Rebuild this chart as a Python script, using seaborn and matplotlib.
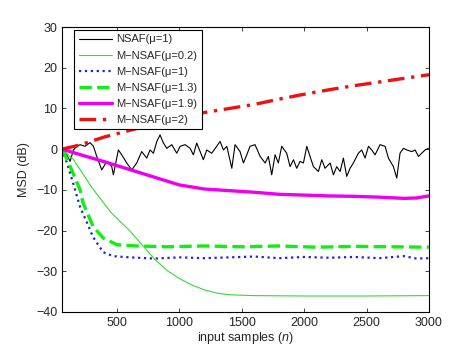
import numpy as np
import pandas as pd
import seaborn as sns
import matplotlib.pyplot as plt

# NSAF(mu=1): noisy curve
nsaf_x = [60, 71, 97, 124, 151, 178, 204, 244, 284, 311, 338, 378, 418, 458, 471, 511, 538, 578,
          618, 658, 698, 738, 765, 792, 819, 845, 872, 899, 939, 979, 1006, 1046, 1086, 1112, 1139,
          1166, 1192, 1219, 1259, 1299, 1326, 1353, 1380, 1420, 1446, 1486, 1513, 1540, 1566, 1606,
          1647, 1687, 1713, 1740, 1767, 1793, 1820, 1860, 1887, 1914, 1940, 1967, 1994, 2021, 2047,
          2074, 2114, 2141, 2167, 2208, 2234, 2261, 2288, 2314, 2341, 2368, 2394, 2434, 2461, 2488,
          2515, 2541, 2568, 2608, 2648, 2675, 2715, 2742, 2768, 2795, 2822, 2862, 2889, 2916, 2942,
          2969, 2995]
nsaf_y = [0.0, 0.0, -1.4, -3.0, -0.2, 0.7, 1.1, 0.7, 1.6, 0.7, -1.8, -5.1, -3.0, -4.3, -6.3, -0.2,
          -1.4, -3.4, -5.1, -3.4, -0.6, -2.2, -0.2, -1.0, 1.9, 3.5, 1.5, 0.2, 1.1, -1.0, 0.7, 1.1,
          0.2, -1.4, 1.5, -0.6, -2.6, -0.2, -1.0, 0.7, 1.9, -0.2, 0.7, -4.7, 1.1, -0.6, -3.4, -1.4,
          0.7, 1.1, -1.8, -3.4, -1.8, -6.3, -1.4, -3.4, 0.7, -1.0, -4.3, -2.6, -4.7, -3.0, -3.4, 0.7,
          -1.8, -4.3, -5.5, -2.6, -4.7, -3.4, -6.3, -4.3, -5.5, -2.2, -6.7, -4.7, -3.4, -1.0, -0.2,
          -2.2, 0.7, -0.2, -1.4, 1.1, 0.7, -2.2, -4.3, -7.1, -1.0, 0.2, -0.2, -0.6, -0.2, -1.8, -1.0,
          -0.2, 0.2]

# M-NSAF(mu=0.2)
m02_x = [60, 150, 300, 450, 600, 700, 800, 900, 1000, 1100, 1200, 1300, 1400, 1600, 2000, 2500, 3000]
m02_y = [0.0, -2.5, -9.5, -15.5, -20.0, -23.5, -27.0, -29.8, -31.8, -33.4, -34.6, -35.4, -35.8,
         -36.0, -36.1, -36.1, -36.0]

# M-NSAF(mu=1)
m1_x = [60, 100, 148, 204, 260, 308, 388, 468, 600, 800, 1000, 1200, 1400, 1600, 1800, 2000,
        2200, 2400, 2600, 2800, 2900, 3000]
m1_y = [0.0, -3.5, -8.3, -14.2, -18.1, -21.6, -25.3, -26.3, -26.6, -26.9, -26.6, -26.8, -26.6,
        -26.4, -26.8, -26.5, -26.7, -26.5, -26.8, -26.3, -26.9, -26.8]

# M-NSAF(mu=1.3)
m13_x = [60, 100, 148, 204, 228, 308, 388, 500, 660, 900, 1200, 1500, 1800, 2100, 2400, 2700, 3000]
m13_y = [0.0, -2.5, -5.9, -10.0, -13.2, -19.0, -21.8, -23.5, -23.8, -24.0, -23.8, -24.0, -23.8,
         -24.1, -23.9, -24.0, -24.1]

# M-NSAF(mu=1.9)
m19_x = [60, 200, 400, 600, 800, 1000, 1200, 1400, 1600, 1800, 2000, 2200, 2400, 2600, 2800, 2900, 3000]
m19_y = [0.0, -1.3, -3.1, -5.0, -6.9, -8.8, -9.8, -10.2, -10.6, -11.1, -11.3, -11.5, -11.6, -11.8,
         -12.1, -12.0, -11.5]

# M-NSAF(mu=2)
m2_x = [60, 200, 400, 600, 800, 1000, 1200, 1400, 1600, 1800, 2000, 2200, 2400, 2600, 2800, 3000]
m2_y = [0.0, 1.0, 3.0, 4.6, 6.2, 7.8, 9.0, 10.0, 11.0, 12.3, 13.5, 14.6, 15.6, 16.5, 17.4, 18.3]

sns.set_style("ticks")
plt.rcParams['font.family'] = ['Liberation Sans', 'DejaVu Sans']
plt.rcParams['mathtext.fontset'] = 'custom'
plt.rcParams['mathtext.rm'] = 'Liberation Sans'
plt.rcParams['mathtext.it'] = 'Liberation Sans:italic'

fig = plt.figure(figsize=(4.74, 3.52), dpi=100)
ax = fig.add_axes([0.131, 0.114, 0.774, 0.809])

series = [
    (nsaf_x, nsaf_y, "NSAF(\u03bc=1)", "black", "-", 0.8, None),
    (m02_x, m02_y, "M\u2212NSAF(\u03bc=0.2)", "#33dd33", "-", 0.8, None),
    (m1_x, m1_y, "M\u2212NSAF(\u03bc=1)", "#2020dd", ":", 1.6, None),
    (m13_x, m13_y, "M\u2212NSAF(\u03bc=1.3)", "#11ee11", "--", 2.4, None),
    (m19_x, m19_y, "M\u2212NSAF(\u03bc=1.9)", "#ee00ee", "-", 2.4, None),
    (m2_x, m2_y, "M\u2212NSAF(\u03bc=2)", "#ee1111", "-.", 2.4, (0, (5, 2, 1, 2))),
]
for xs, ys, lab, col, ls, lw, dash in series:
    df = pd.DataFrame({"n": xs, "msd": ys})
    sns.lineplot(data=df, x="n", y="msd", ax=ax, color=col,
                 linestyle=dash if dash else ls, linewidth=lw, label=lab)

ax.set_xlim(60, 3000)
ax.set_ylim(-40, 30)
ax.set_xticks([500, 1000, 1500, 2000, 2500, 3000])
ax.set_yticks([-40, -30, -20, -10, 0, 10, 20, 30])
ax.tick_params(direction='in', top=True, right=True, labelsize=9, length=3, width=0.6)
for s in ax.spines.values():
    s.set_linewidth(0.8)
    s.set_color('black')
ax.set_xlabel("input samples ($n$)", fontsize=9, labelpad=1)
ax.set_ylabel("MSD (dB)", fontsize=9)

leg = ax.legend(loc='upper left', bbox_to_anchor=(0.033, 0.99), borderaxespad=0, fontsize=8,
                handlelength=3.0, fancybox=False, edgecolor='black', framealpha=1,
                labelspacing=0.55, borderpad=0.4, handletextpad=0.4)
leg.get_frame().set_linewidth(0.8)

fig.savefig("out.png", dpi=100)
